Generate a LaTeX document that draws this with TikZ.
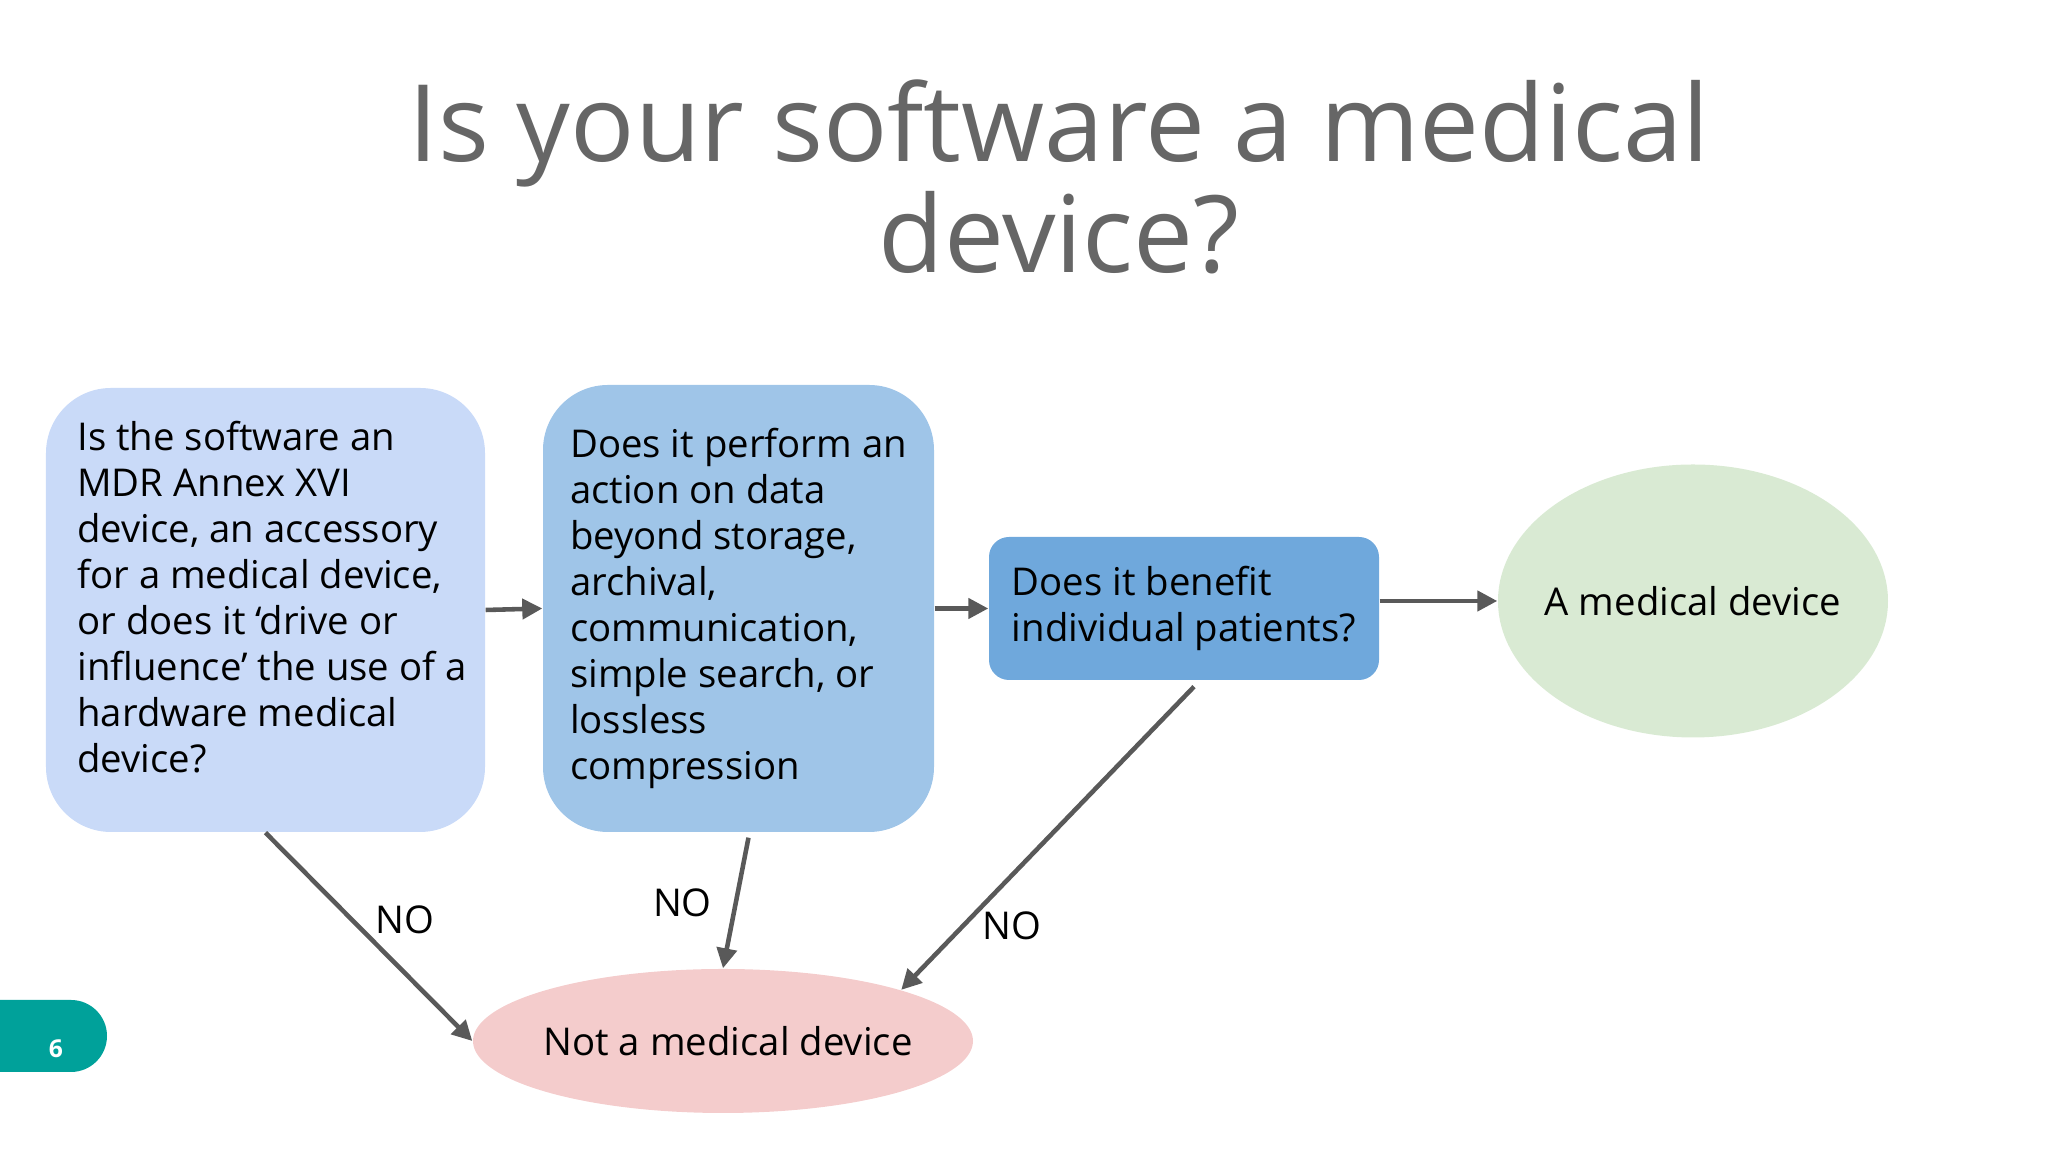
\documentclass[tikz,border=0pt]{standalone}
\usepackage{fontspec}
\setmainfont{Open Sans}
\usetikzlibrary{arrows.meta,shapes.geometric}

\definecolor{titlegray}{HTML}{666666}
\definecolor{annexblue}{HTML}{C9DAF8}
\definecolor{actionblue}{HTML}{9FC5E8}
\definecolor{benefitblue}{HTML}{6FA8DC}
\definecolor{yesgreen}{HTML}{D9EAD3}
\definecolor{nopink}{HTML}{F4CCCC}
\definecolor{arrowgray}{HTML}{595959}
\definecolor{tabteal}{HTML}{00A19A}

\begin{document}
\begin{tikzpicture}[
		qbox/.style={rectangle, align=left, inner sep=0.05cm, font=\fontsize{10.9}{13.1}\selectfont},
		outcome/.style={ellipse, inner sep=0pt, font=\fontsize{10.9}{13.1}\selectfont},
		flow/.style={draw=arrowgray, line width=1.3pt, -{Triangle[length=0.2cm, width=0.2cm]}},
		nolabel/.style={font=\fontsize{10.9}{13.1}\selectfont}]
		\useasboundingbox (0,0) rectangle (20.48,11.52);
		% title
		\node[align=center, text=titlegray, font=\fontsize{30.4}{28.7}\selectfont] (title) at (10.59,9.75) {Is your software a medical\\device?};
		% questions
		\node[qbox, fill=annexblue, rounded corners=0.65cm, minimum width=4.39cm, minimum height=4.44cm] (annex) at (2.655,5.42) {};
		\node[qbox] (annextext) at ([xshift=0.065cm, yshift=0.13cm]annex.center)
			{Is the software an\\MDR Annex XVI\\device, an accessory\\for a medical device,\\or does it ‘drive or\\influence’ the use of a\\hardware medical\\device?};
		\node[qbox, fill=actionblue, rounded corners=0.65cm, minimum width=3.91cm, minimum height=4.47cm] (action) at (7.385,5.435)
			{Does it perform an\\action on data\\beyond storage,\\archival,\\communication,\\simple search, or\\lossless\\compression};
		\node[qbox, fill=benefitblue, rounded corners=0.2cm, minimum width=3.90cm, minimum height=1.43cm] (benefit) at (11.84,5.435)
			{Does it benefit\\individual patients?};
		% outcomes
		\node[outcome, fill=yesgreen, minimum width=3.90cm, minimum height=2.73cm] (yes) at (16.93,5.51) {\makebox[0pt]{A medical device}};
		\node[outcome, fill=nopink, minimum width=5.00cm, minimum height=1.44cm] (notmd) at (7.23,1.11) {\makebox[0pt]{\hspace{0.1cm}Not a medical device}};
		% connectors
		\draw[flow] (annex.east) -- (action.west);
		\draw[flow] (action.east) -- (benefit.west);
		\draw[flow] (benefit.east |- yes.west) -- (yes.west);
		\draw[flow] (annex.south) -- (notmd.west) node[nolabel, pos=0.42, right=0.09cm] {NO};
		\draw[flow] ([shift={(0.1,-0.05)}]action.south) -- (notmd.north) node[nolabel, pos=0.5, left=0.1cm] {NO};
		\draw[flow] ([shift={(0.1,-0.06)}]benefit.south) -- (notmd.16) node[nolabel, pos=0.79, right=0.06cm] {NO};
		% page tab
		\fill[tabteal, rounded corners=0.36cm] (-0.5,0.80) rectangle (1.07,1.52);
		\node[text=white, font=\fontsize{7}{8}\selectfont\bfseries] (pgno) at (0.56,1.03) {6};
	\end{tikzpicture}
\end{document}
